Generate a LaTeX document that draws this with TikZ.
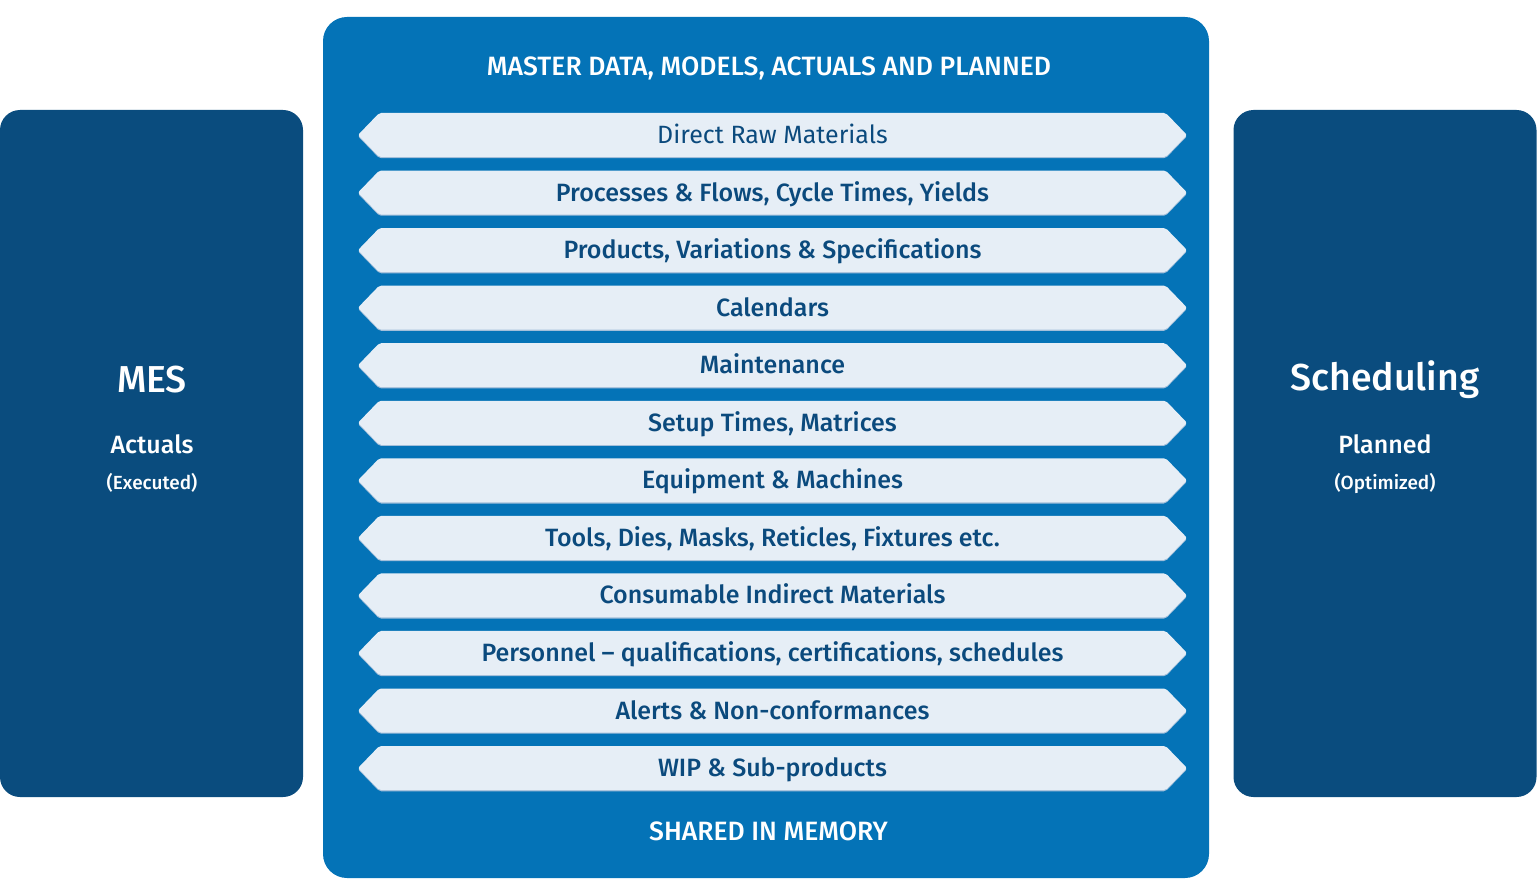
\documentclass[tikz,border=0pt]{standalone}
\usepackage{fontspec}
\usetikzlibrary{shapes.symbols}
\IfFontExistsTF{Fira Sans Medium}{\newfontfamily\medfont{Fira Sans Medium}}{\newfontfamily\medfont{Liberation Sans}}
\IfFontExistsTF{Fira Sans}{\newfontfamily\regfont{Fira Sans}}{\newfontfamily\regfont{Liberation Sans}}
\definecolor{panelblue}{HTML}{0473B7}
\definecolor{sideblue}{HTML}{0A4C7E}
\definecolor{bandfill}{HTML}{E6EEF6}
\definecolor{bandtext}{HTML}{0B4A7D}
\definecolor{bandshade}{HTML}{A3BFDA}
\tikzset{
  sidebox/.style={fill=sideblue, rounded corners=20pt, inner sep=0pt, minimum width=303pt, minimum height=687pt},
  centerbox/.style={fill=panelblue, rounded corners=24pt, inner sep=0pt, minimum width=886pt, minimum height=861pt},
  bandshape/.style={shape=signal, signal to=east and west, signal pointer angle=92, minimum width=829pt, minimum height=44pt, inner sep=0pt, rounded corners=2pt},
  band/.style={bandshape, fill=bandfill, text=bandtext, text height=20pt, text depth=3pt, font=\medfont\fontsize{25}{29}\selectfont},
  bandshadow/.style={bandshape, fill=bandshade},
  headtext/.style={text=white, text height=20pt, text depth=3pt, font=\medfont\fontsize{26.5}{30}\selectfont},
  bigtitle/.style={text=white, font=\medfont\fontsize{37.5}{42}\selectfont},
  subtitle/.style={text=white, font=\medfont\fontsize{25}{29}\selectfont},
  smalltitle/.style={text=white, font=\medfont\fontsize{19}{23}\selectfont}
}
\begin{document}
\begin{tikzpicture}[x=1pt,y=-1pt]
\useasboundingbox (0,0) rectangle (1537,896);
\node[centerbox] (center) at (766,447.5) {};
\node[sidebox] (mes) at (151.5,453.5) {};
\node[sidebox] (sched) at (1385,453.5) {};
\node[headtext] (head) at (769,67) {MASTER DATA, MODELS, ACTUALS AND PLANNED};
\node[headtext] (foot) at (768.5,832) {SHARED IN MEMORY};
\node[bigtitle] (mest) at (152,380) {MES};
\node[subtitle] (mesa) at (152,444) {Actuals};
\node[smalltitle] (mese) at (152,483) {(Executed)};
\node[bigtitle] (scht) at (1385,380) {Scheduling};
\node[subtitle] (scha) at (1385,444) {Planned};
\node[smalltitle] (scho) at (1385,483) {(Optimized)};
\foreach \t [count=\i from 0] in {
  {Direct Raw Materials},
  {Processes \& Flows, Cycle Times, Yields},
  {Products, Variations \& Specifications},
  {Calendars},
  {Maintenance},
  {Setup Times, Matrices},
  {Equipment \& Machines},
  {Tools, Dies, Masks, Reticles, Fixtures etc.},
  {Consumable Indirect Materials},
  {Personnel – qualifications, certifications, schedules},
  {Alerts \& Non-conformances},
  {WIP \& Sub-products}}{
  \node[bandshadow] (s\i) at (772.5,{136.2+57.55*\i}) {};
  \ifnum\i=0
    \node[band, font=\regfont\fontsize{25}{29}\selectfont] (b\i) at (772.5,{135+57.55*\i}) {\t};
  \else
    \node[band] (b\i) at (772.5,{135+57.55*\i}) {\t};
  \fi
}
\end{tikzpicture}
\end{document}
